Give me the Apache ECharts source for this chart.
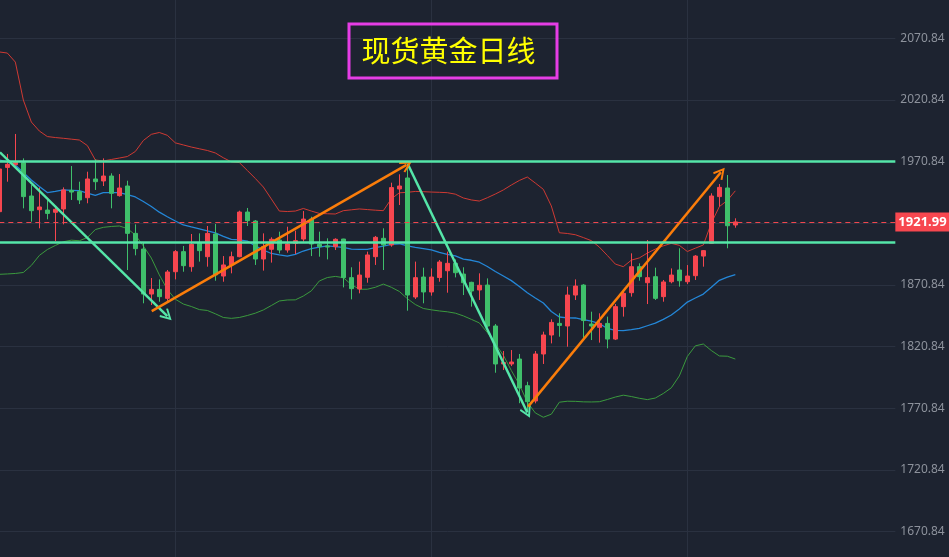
<!DOCTYPE html>
<html><head><meta charset="utf-8">
<script src="https://cdn.jsdelivr.net/npm/echarts@6/dist/echarts.min.js"></script>
<style>html,body{margin:0;padding:0;background:#1d2330;overflow:hidden;width:949px;height:557px;position:relative}#c{position:absolute;left:0;top:-50px;width:949px;height:667px}</style>
</head><body><div id="c"></div>
<script>
// ---- data ----
const slotCount = 113; // category slots across the plot (93 candles + empty space on the right)
const categories = Array.from({length: slotCount}, (_, i) => 'D' + (i + 1));

const opens = [1930.3,1966.2,1968.4,1970.0,1943.0,1931.9,1931.6,1929.8,1932.5,1947.6,
1946.5,1941.6,1956.8,1955.2,1959.2,1943.3,1951.1,1912.7,1900.0,1863.5,
1867.3,1860.0,1881.6,1897.9,1885.7,1905.2,1893.8,1912.2,1878.1,1887.1,
1893.8,1930.0,1922.7,1891.9,1899.8,1907.3,1899.2,1904.6,1908.1,1924.3,
1903.8,1902.5,1901.9,1908.1,1876.8,1867.6,1877.1,1893.8,1908.7,1903.3,
1948.7,1957.6,1861.1,1877.3,1865.2,1876.9,1882.4,1888.4,1879.7,1873.0,
1866.8,1870.8,1837.6,1806.8,1806.8,1810.8,1789.2,1776.8,1814.9,1830.3,
1839.7,1837.6,1862.7,1870.8,1839.2,1836.5,1839.7,1827.0,1853.3,1864.6,
1885.7,1872.7,1877.6,1861.4,1873.5,1883.0,1873.5,1878.4,1894.3,1904.6,
1942.5,1949.5,1919.5];
const closes = [1964.9,1968.7,1970.3,1942.5,1931.1,1934.1,1928.9,1932.2,1947.9,1946.2,
1939.8,1956.8,1954.6,1959.2,1945.2,1949.5,1912.7,1900.3,1863.5,1867.3,
1861.4,1881.4,1897.9,1886.5,1903.8,1898.7,1912.7,1879.0,1887.1,1893.8,
1930.0,1923.0,1891.9,1901.9,1907.9,1899.2,1904.1,1906.8,1924.3,1904.1,
1901.9,1901.6,1907.9,1876.8,1867.9,1878.9,1895.2,1909.5,1903.3,1949.8,
1951.1,1862.7,1876.8,1865.2,1877.3,1889.5,1888.4,1880.8,1872.7,1866.0,
1870.6,1837.6,1806.8,1808.1,1808.4,1787.3,1776.2,1814.9,1830.3,1840.5,
1838.1,1862.7,1870.0,1842.0,1837.6,1839.7,1827.0,1853.3,1864.1,1885.7,
1877.6,1876.8,1860.0,1873.3,1878.9,1874.3,1878.1,1894.3,1898.7,1943.0,
1950.0,1918.9,1921.99];
const lows = [1928.5,1954.6,1967.5,1933.0,1922.2,1916.8,1924.1,1906.5,1920.0,1939.8,
1936.5,1937.1,1947.9,1951.1,1933.0,1942.5,1883.0,1894.9,1856.0,1854.6,
1857.3,1858.0,1875.4,1881.6,1881.6,1889.8,1885.7,1874.3,1873.5,1880.3,
1893.3,1918.7,1887.1,1882.5,1889.0,1896.5,1897.1,1896.0,1906.0,1894.3,
1893.8,1891.6,1899.2,1868.9,1859.2,1864.1,1872.7,1887.1,1883.0,1901.9,
1935.7,1850.0,1859.5,1856.0,1862.2,1873.5,1864.6,1877.0,1862.7,1853.3,
1858.7,1836.5,1799.7,1801.9,1805.1,1775.0,1768.1,1774.9,1806.8,1823.5,
1828.9,1820.8,1858.7,1828.0,1826.2,1824.1,1819.5,1826.2,1845.2,1861.4,
1874.3,1855.4,1858.7,1857.3,1872.2,1869.5,1871.6,1874.9,1885.7,1904.1,
1934.4,1900.6,1917.3];
const highs = [1966.5,1977.1,1993.3,1973.5,1951.9,1950.0,1941.1,1934.4,1950.0,1967.3,
1954.6,1962.7,1972.7,1973.5,1961.4,1960.8,1955.4,1920.0,1905.2,1876.5,
1875.4,1883.0,1899.2,1902.5,1912.2,1912.7,1918.7,1920.3,1894.3,1897.9,
1931.1,1933.3,1923.5,1912.7,1909.5,1914.1,1918.1,1914.9,1930.8,1926.2,
1914.1,1908.7,1908.7,1908.3,1885.2,1889.8,1897.9,1910.6,1916.8,1953.8,
1960.6,1966.0,1889.8,1884.9,1884.3,1891.1,1897.9,1891.6,1885.2,1873.5,
1880.3,1876.2,1839.2,1817.3,1818.1,1814.9,1792.4,1817.3,1833.0,1843.0,
1847.9,1869.5,1875.4,1871.5,1849.2,1847.9,1845.2,1855.4,1865.4,1896.5,
1888.4,1907.3,1884.9,1874.9,1884.3,1900.6,1887.0,1895.1,1899.2,1945.2,
1952.7,1960.0,1924.9];

// Bollinger bands
const upperBand = [2059.8,2058.9,2051.6,2020.8,2003.0,1995.7,1991.2,1990.4,1989.8,1989.1,
1988.4,1983.9,1972.2,1971.4,1972.6,1973.8,1975.0,1979.1,1988.0,1993.0,
1994.5,1992.2,1986.1,1984.4,1982.7,1981.3,1979.9,1977.9,1974.0,1970.7,
1970.1,1963.7,1957.2,1950.3,1940.6,1930.8,1930.4,1930.8,1932.9,1930.8,
1928.9,1928.6,1928.4,1931.1,1931.8,1932.5,1932.0,1931.5,1931.1,1940.7,
1945.6,1946.0,1946.7,1946.5,1946.2,1946.0,1945.7,1944.5,1941.4,1939.8,
1938.9,1941.6,1944.6,1947.9,1951.9,1955.6,1958.4,1953.5,1948.4,1934.9,
1913.2,1912.6,1911.6,1909.3,1906.8,1901.6,1894.8,1887.8,1885.7,1891.0,
1892.8,1896.7,1900.0,1902.6,1904.6,1903.0,1898.0,1900.7,1903.3,1921.0,
1934.4,1939.4,1947.2];
const midBand = [1972.2,1970.7,1968.1,1962.1,1956.0,1950.7,1945.8,1946.8,1947.9,1947.6,
1947.3,1945.4,1943.6,1945.7,1945.7,1945.7,1944.2,1942.2,1938.5,1934.5,
1929.9,1926.2,1922.7,1919.5,1917.9,1916.4,1914.7,1913.1,1910.3,1907.8,
1907.5,1906.5,1902.5,1899.2,1896.4,1895.3,1894.3,1895.6,1898.4,1900.4,
1901.5,1902.5,1901.9,1901.4,1900.0,1899.8,1899.8,1901.2,1902.3,1903.8,
1904.3,1902.5,1901.4,1900.4,1899.4,1897.3,1895.7,1894.5,1891.9,1890.9,
1889.3,1885.8,1881.8,1878.1,1874.4,1869.6,1864.5,1860.3,1856.2,1849.3,
1844.9,1844.2,1844.1,1842.8,1841.6,1839.6,1835.6,1834.1,1833.9,1834.7,
1835.6,1837.8,1839.9,1843.0,1846.5,1851.4,1857.0,1860.3,1863.5,1869.0,
1874.6,1877.2,1879.3];
const lowerBand = [1879.5,1879.8,1880.2,1881.0,1886.7,1894.8,1899.6,1902.9,1905.9,1907.2,
1906.7,1909.3,1915.8,1917.6,1918.3,1918.7,1916.6,1911.4,1902.5,1892.7,
1879.0,1867.2,1859.3,1855.4,1853.4,1850.9,1850.2,1847.5,1844.5,1843.8,
1844.5,1846.1,1848.0,1850.6,1854.2,1857.9,1858.7,1858.8,1861.9,1866.1,
1874.1,1876.9,1877.8,1876.8,1871.2,1867.4,1867.4,1869.0,1871.6,1869.0,
1865.6,1859.8,1855.0,1851.8,1850.7,1849.8,1849.1,1848.0,1845.8,1843.0,
1840.1,1832.3,1823.2,1813.9,1801.5,1790.2,1775.8,1767.1,1763.6,1766.1,
1775.8,1776.6,1776.5,1776.1,1776.0,1776.2,1778.0,1780.0,1781.5,1780.4,
1779.0,1777.9,1779.2,1782.9,1787.5,1797.1,1812.9,1821.5,1823.0,1817.7,
1813.3,1813.1,1810.8];

// horizontal levels and y ticks
const levelLines = [1970.84, 1905.5];
const lastPrice = 1921.99;
const yTickStart = 1620.84, yTickEnd = 2120.84, yTickStep = 50;

// drawn trend arrows: [startIndex, startValue, endIndex, endValue]
const arrowsMint = [[0.08, 1978.4, 21.0, 1845.6], [51.05, 1969.0, 66.0, 1767.5]];
const arrowsOrange = [[19.05, 1849.7, 50.9, 1968.3], [66.1, 1772.2, 90.2, 1962.2]];

const titleText = '现货黄金日线';

// ---- chart ----
// the chart div is 50px taller at the top than the window (it starts at y=-50)
const OFF = 50;
const BG = '#1d2330';
const UP = '#f6464f', DOWN = '#3fbf6b';
const MINT = '#55e6a8', ORANGE = '#fb7d0a';
const chevron = 'path://M0,10 L6,0 L12,10 L10.4,11 L6,3.6 L1.6,11 Z';

const candleData = opens.map((o, i) => [o, closes[i], lows[i], highs[i]]);
const toArrow = (a, color) => ({coords: [[a[0], a[1]], [a[2], a[3]]], lineStyle: {color: color, width: 2.5, opacity: 1}});

const chart = echarts.init(document.getElementById('c'), null, {renderer: 'canvas'});
chart.setOption({
  backgroundColor: BG,
  animation: false,
  title: {
    text: titleText,
    left: 348.5, top: 23.5 + OFF,
    padding: [12, 22, 12, 13],
    borderColor: '#e53de5', borderWidth: 3,
    textStyle: {color: '#ffff00', fontSize: 29, lineHeight: 31, fontWeight: 'normal', fontFamily: 'Noto Sans CJK SC'}
  },
  grid: {left: -0.67, right: 53.67, top: OFF - 23.33, bottom: 667 - OFF - 593.33, containLabel: false, outerBoundsMode: 'none'},
  xAxis: [
    {type: 'category', data: categories, boundaryGap: false,
     axisLine: {show: false}, axisTick: {show: false}, axisLabel: {show: false},
     splitLine: {show: true, interval: (i) => (i % 32) === 22, lineStyle: {color: '#2a3140', width: 1}}},
    {type: 'value', min: 0, max: slotCount - 1, show: false}
  ],
  yAxis: {
    type: 'value', position: 'right', scale: true,
    min: yTickStart, max: yTickEnd, interval: yTickStep,
    axisLine: {show: true, lineStyle: {color: '#2c3343'}},
    axisTick: {show: false},
    splitLine: {show: true, lineStyle: {color: '#2a3140', width: 1}},
    axisLabel: {color: '#8d929c', fontSize: 12, fontFamily: 'Noto Sans', margin: 5,
      formatter: (v) => Number(v).toFixed(2)}
  },
  series: [
    {type: 'line', name: 'UP', data: upperBand, showSymbol: false, z: 1,
     lineStyle: {color: '#cf3a33', width: 1}},
    {type: 'line', name: 'MID', data: midBand, showSymbol: false, z: 1,
     lineStyle: {color: '#2487d8', width: 1.3}},
    {type: 'line', name: 'DN', data: lowerBand, showSymbol: false, z: 1,
     lineStyle: {color: '#3b9a3e', width: 1}},
    {type: 'candlestick', data: candleData, barWidth: 5, z: 2,
     itemStyle: {color: UP, color0: DOWN, borderColor: UP, borderColor0: DOWN, borderWidth: 1},
     markLine: {
       silent: true, symbol: 'none', animation: false,
       data: [{yAxis: lastPrice,
               lineStyle: {color: '#f0474e', type: [5, 4], width: 1},
               label: {show: true, position: 'end', distance: 0, formatter: () => lastPrice.toFixed(2),
                       color: '#ffffff', backgroundColor: '#f7474f', fontWeight: 'bold', fontSize: 13,
                       fontFamily: 'Noto Sans', padding: [3, 3, 3, 3]}}]
     }},
    {type: 'line', data: [], z: 3,
     markLine: {
       silent: true, symbol: 'none', animation: false,
       lineStyle: {color: MINT, width: 2.5, type: 'solid'},
       label: {show: false},
       data: levelLines.map(v => ({yAxis: v}))
     }},
    {type: 'lines', coordinateSystem: 'cartesian2d', xAxisIndex: 1, yAxisIndex: 0, z: 4,
     symbol: ['none', chevron], symbolSize: [16, 12], silent: true,
     lineStyle: {opacity: 1},
     data: arrowsMint.map(a => toArrow(a, MINT)).concat(arrowsOrange.map(a => toArrow(a, ORANGE)))}
  ]
});
</script>
</body></html>
